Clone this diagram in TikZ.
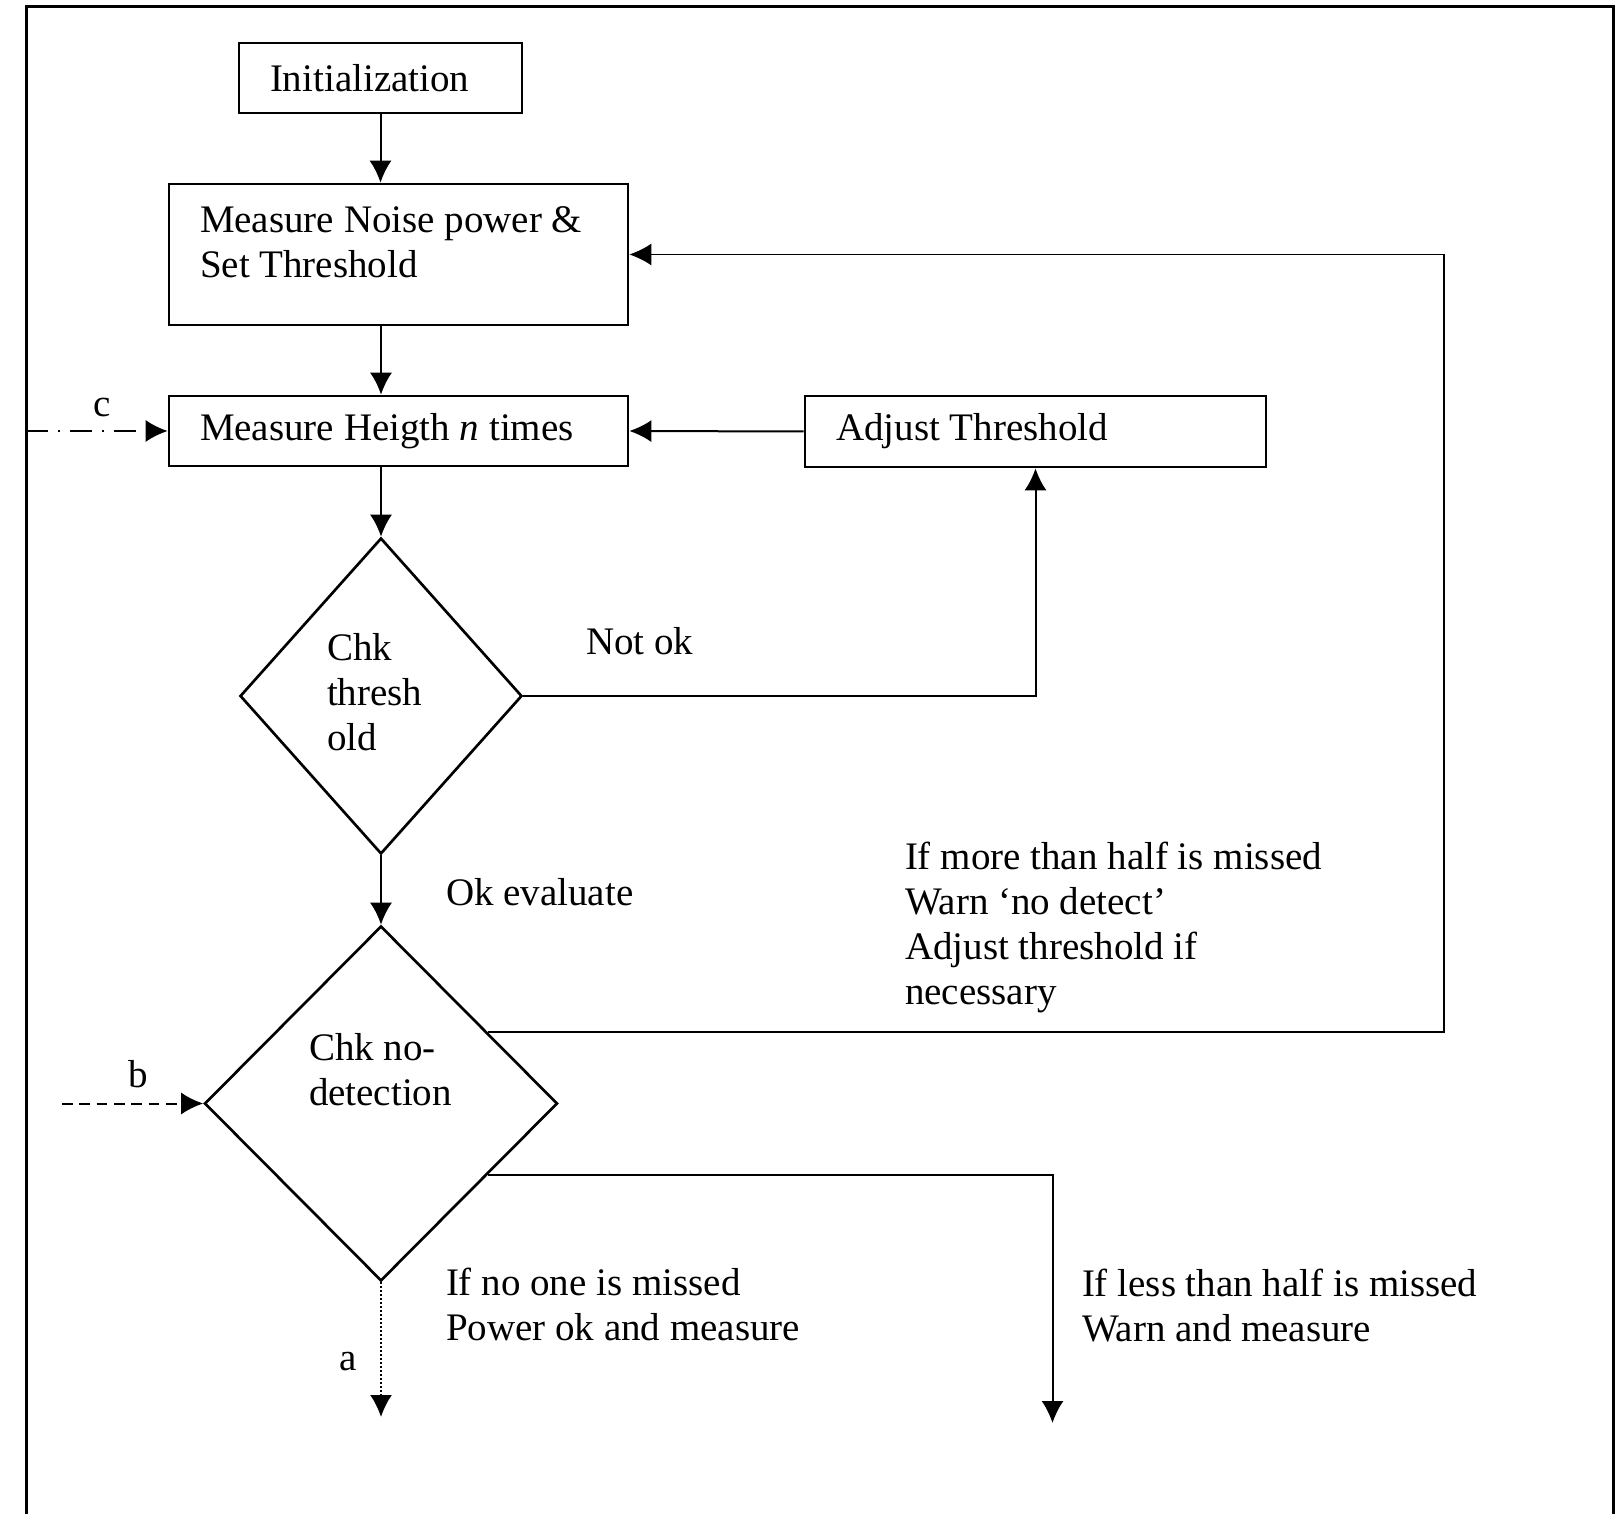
\documentclass[tikz,border=0pt]{standalone}
\usepackage{fontspec}
\setmainfont{Liberation Serif}
\usetikzlibrary{arrows.meta,shapes.geometric,calc}

\tikzset{
  procbox/.style={draw,line width=0.8pt,align=flush left,inner xsep=9.3pt,inner ysep=0pt,minimum height=21pt},
  decision/.style={draw,diamond,line width=0.8pt,inner sep=0pt},
  note/.style={anchor=base west,align=left,inner sep=0pt},
  tag/.style={anchor=base,inner sep=0pt},
}

\begin{document}
\begin{tikzpicture}[x=3pt,y=3pt,line width=0.6pt,>={Latex[length=6.6pt,width=6.6pt]},font=\fontsize{11.7}{13.5}\selectfont]
\useasboundingbox (0,0) rectangle (162.4,-151.4);
% frame
\draw[line width=0.9pt] (2.6,-151.4) -- (2.6,-0.7) -- (161.3,-0.7) -- (161.3,-151.4);

\node[procbox,text width=66.3pt] (init) at (38.05,-7.8) {Initialization};
\node[procbox,text width=119.1pt,minimum height=42.3pt] (noise) at (39.85,-25.45) {Measure Noise power \&\\Set Threshold\\[-6pt]\mbox{}};
\node[procbox,text width=119.1pt] (height) at (39.85,-43.1) {Measure Heigth \textit{n} times};
\node[procbox,text width=119.7pt,minimum height=21.3pt] (adjust) at (103.55,-43.15) {Adjust Threshold};
\node[decision,minimum width=84.6pt,minimum height=94.8pt] (chk1) at (38.1,-69.6) {};
\node[decision,minimum width=105.9pt,minimum height=106.5pt] (chk2) at (38.1,-110.35) {};
% multi-line notes: base is the last line
\node[note] (chk1txt) at (32.6,-75.1) {Chk\\thresh\\old};
\node[note] (chk2txt) at (30.8,-110.5) {Chk no-\\detection};

\node[note] (notok) at (58.5,-65.5) {Not ok};
\node[note] (okeval) at (44.5,-90.5) {Ok evaluate};
\node[note] (more) at (90.4,-100.4) {If more than half is missed\\Warn ‘no detect’\\Adjust threshold if\\necessary};
\node[note] (noone) at (44.5,-134.0) {If no one is missed\\Power ok and measure};
\node[note] (less) at (108.1,-134.1) {If less than half is missed\\Warn and measure};
\node[tag] (alab) at (34.8,-137.0) {a};
\node[tag] (blab) at (13.8,-108.7) {b};
\node[tag] (clab) at (10.2,-41.7) {c};

\coordinate (fbcorner) at (144.4,-25.45);
\coordinate (warnend) at (105.25,-142.3);
\coordinate (aend) at (38.1,-141.7);
\coordinate (cin) at (2.6,-43.1);
\coordinate (bin) at (6.2,-110.35);

\draw[->] (init.south) -- (init.south |- noise.north);
\draw[->] (chk1 |- noise.south) -- (chk1 |- height.north);
\draw[->] (chk1 |- height.south) -- (chk1.north);
\draw[->] (chk1.south) -- (chk2.north);
\draw[->] (adjust.west) -- (height.east);
\draw[->] (chk1.east) -| (adjust.south);
\draw[->,line width=0.5pt] ($(chk2.north)!0.6!(chk2.east)$) -| (fbcorner) -- (noise.east);
\draw[->] ($(chk2.east)!0.4!(chk2.south)$) -| (warnend);
\draw[->,dash pattern=on 0.6pt off 0.6pt] (chk2.south) -- (aend);
\draw[->,dash pattern=on 6.6pt off 3pt on 0.6pt off 3pt] (cin) -- (height.west);
\draw[->,dash pattern=on 3.2pt off 2pt] (bin) -- (chk2.west);
\end{tikzpicture}
\end{document}
